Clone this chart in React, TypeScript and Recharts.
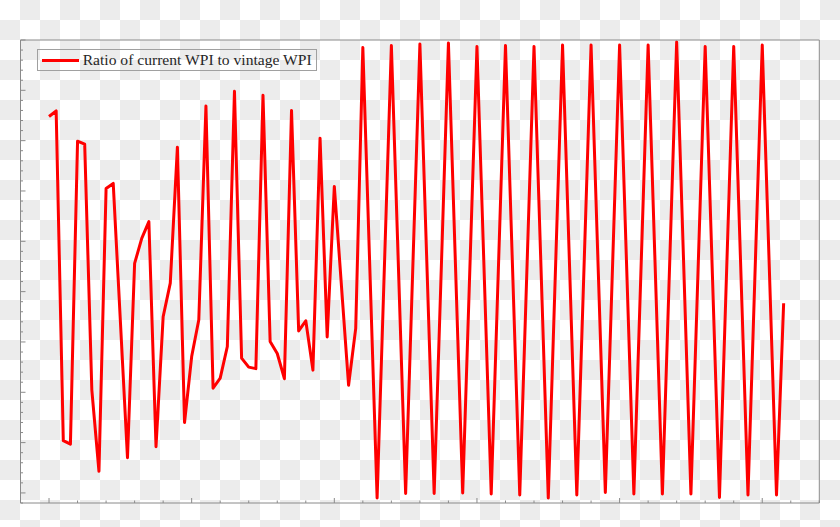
import { Legend, Line, LineChart, XAxis, YAxis } from 'recharts'

// Quarter index (x) and the ratio at each vertex.
const quarters = [
  0, 1, 2, 3, 4, 5, 6, 7, 8, 9, 11, 12, 13, 14, 15, 16, 17, 18, 19, 20, 21, 22,
  23, 24, 25, 26, 27, 28, 29, 30, 31, 32, 33, 34, 35, 36, 37, 38, 39, 40, 42, 43,
  44, 46, 48, 50, 52, 54, 56, 58, 60, 62, 64, 66, 68, 70, 72, 74, 76, 78, 80, 82,
  84, 86, 88, 90, 92, 94, 96, 98, 100, 102, 103,
]
const ratio = [
  1.0248, 1.0259, 0.9604, 0.9597, 1.0199, 1.0193, 0.9705, 0.9543, 1.0105, 1.0115,
  0.957, 0.9956, 1.0006, 1.0039, 0.9592, 0.985, 0.9917, 1.0187, 0.964, 0.9771,
  0.9844, 1.0269, 0.9708, 0.9728, 0.9791, 1.0298, 0.9768, 0.975, 0.9747, 1.029,
  0.9801, 0.9777, 0.9727, 1.026, 0.9822, 0.9842, 0.9744, 1.0205, 0.981, 1.0109,
  0.9714, 0.9827, 1.0385, 0.949, 1.0389, 0.9499, 1.0392, 0.9499, 1.0394, 0.95,
  1.0387, 0.9498, 1.0389, 0.9496, 1.0387, 0.949, 1.039, 0.9496, 1.039, 0.9501,
  1.039, 0.9498, 1.039, 0.9498, 1.0396, 0.9498, 1.0387, 0.9491, 1.0387, 0.9496,
  1.039, 0.9496, 0.9877,
]
const SERIES_NAME = 'Ratio of current WPI to vintage WPI'

const X_DOMAIN = [-4, 108]
const Y_DOMAIN = [0.948, 1.04]
const xTicks = Array.from({ length: 29 }, (_, k) => -4 + 4 * k)
const yTicks = Array.from({ length: 47 }, (_, k) => +(0.948 + 0.002 * k).toFixed(3))

const data = quarters.map((q, i) => ({ q, ratio: ratio[i] }))

const AXIS = '#8a8a8a'

// MATLAB-style inward ticks: long on majors, short on minors.
function XTick({ x, y, payload }: any) {
  const major = payload.value >= 0 && payload.value % 20 === 0
  return <line x1={x} x2={x} y1={y} y2={y - (major ? 5 : 2.5)} stroke={AXIS} strokeWidth={1} />
}

function YTick({ x, y, payload }: any) {
  const major = Math.round(payload.value * 1000) % 10 === 0
  return <line x1={x} x2={x + (major ? 5 : 2.5)} y1={y} y2={y} stroke={AXIS} strokeWidth={1} />
}

function LegendBox({ payload }: any) {
  const name = payload?.[0]?.value ?? SERIES_NAME
  return (
    <div
      style={{
        display: 'flex',
        alignItems: 'center',
        height: 20,
        border: '1px solid #a0a0a0',
        padding: '0 4px 0 4px',
        fontFamily: '"Liberation Serif", "Times New Roman", serif',
        fontSize: 15.6,
        color: '#262626',
        whiteSpace: 'nowrap',
      }}
    >
      <span style={{ display: 'inline-block', width: 37, height: 3, background: '#ff0000', marginRight: 4 }} />
      <span>{name}</span>
    </div>
  )
}

export default function App() {
  return (
    <div
      style={{
        position: 'absolute',
        left: 0,
        top: 0,
        width: 840,
        height: 527,
        backgroundColor: '#ffffff',
        backgroundImage: 'conic-gradient(#ececec 0 25%, #ffffff 0 50%, #ececec 0 75%, #ffffff 0)',
        backgroundSize: '40px 40px',
      }}
    >
      <LineChart width={840} height={527} data={data} margin={{ top: 39, right: 19.7, bottom: 23, left: 19.5 }}>
        <XAxis
          dataKey="q"
          type="number"
          domain={X_DOMAIN}
          ticks={xTicks}
          interval={0}
          height={1}
          tickSize={0}
          tickMargin={0}
          tickLine={false}
          tick={<XTick />}
          axisLine={{ stroke: AXIS }}
        />
        <XAxis xAxisId="top" orientation="top" dataKey="q" type="number" domain={X_DOMAIN} ticks={xTicks} height={1} tick={false} tickLine={false} axisLine={{ stroke: AXIS }} />
        <YAxis
          type="number"
          domain={Y_DOMAIN}
          ticks={yTicks}
          interval={0}
          width={1}
          tickSize={0}
          tickMargin={0}
          tickLine={false}
          tick={<YTick />}
          axisLine={{ stroke: AXIS }}
          allowDataOverflow
        />
        <YAxis yAxisId="right" orientation="right" type="number" domain={Y_DOMAIN} ticks={yTicks} width={1} tick={false} tickLine={false} axisLine={{ stroke: AXIS }} />
        <Legend
          layout="horizontal"
          align="center"
          verticalAlign="middle"
          content={<LegendBox />}
          wrapperStyle={{ position: 'absolute', left: 36.7, top: 49.3, width: 'auto', height: 'auto' }}
        />
        <Line
          dataKey="ratio"
          name={SERIES_NAME}
          stroke="#ff0000"
          strokeWidth={3}
          strokeLinejoin="round"
          dot={false}
          activeDot={false}
          isAnimationActive={false}
        />
      </LineChart>
    </div>
  )
}
